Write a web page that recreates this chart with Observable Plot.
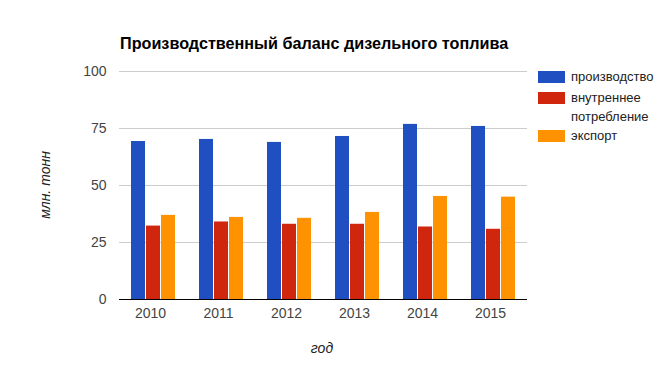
<!DOCTYPE html>
<html>
<head>
<meta charset="utf-8">
<script src="https://cdn.jsdelivr.net/npm/d3@7"></script>
<script src="https://cdn.jsdelivr.net/npm/@observablehq/plot@0.6"></script>
<style>
  html, body { margin: 0; padding: 0; background: #fff; }
  #wrap { position: relative; width: 670px; height: 371px; font-family: "Liberation Sans", Arial, sans-serif; }
  #title { position: absolute; left: 120px; top: 43px; transform: translateY(-50%); font-size: 16.2px; font-weight: bold; color: #000; white-space: nowrap; }
  #ylab { position: absolute; left: 45px; top: 185px; transform: translate(-50%, -50%) rotate(-90deg); font-size: 14px; font-style: italic; color: #222; white-space: nowrap; }
  #xlab { position: absolute; left: 322px; top: 348px; transform: translate(-50%, -50%); font-size: 14px; font-style: italic; color: #222; white-space: nowrap; }
  #legend { position: absolute; left: 538px; top: 71px; font-size: 13px; color: #222; }
  .item { position: absolute; left: 0; white-space: nowrap; }
  .sw { position: absolute; left: 0; top: 0; width: 27px; height: 12px; }
  .lt { position: absolute; left: 33px; top: -4px; line-height: 19px; }
</style>
</head>
<body>
<div id="wrap">
  <div id="chart"></div>
  <div id="title"></div>
  <div id="ylab"></div>
  <div id="xlab"></div>
  <div id="legend"></div>
</div>
<script>
const title = "Производственный баланс дизельного топлива";
const yLabel = "млн. тонн";
const xLabel = "год";
const years = ["2010", "2011", "2012", "2013", "2014", "2015"];
const seriesNames = ["производство", "внутреннее потребление", "экспорт"];
const legendLines = [["производство"], ["внутреннее", "потребление"], ["экспорт"]];
const colors = ["#1f4fc1", "#d0260d", "#ff9200"];
const production = [69.3, 70.2, 68.9, 71.5, 76.8, 75.9];
const domestic = [32.2, 34.0, 33.0, 33.0, 31.8, 30.8];
const exportVals = [36.9, 36.0, 35.6, 38.2, 45.2, 44.9];
const yTicks = [0, 25, 50, 75, 100];

const seriesValues = [production, domestic, exportVals];
const data = [];
years.forEach((y, i) => {
  seriesNames.forEach((s, j) => data.push({year: y, series: s, value: seriesValues[j][i]}));
});

const chart = Plot.plot({
  width: 670,
  height: 371,
  marginLeft: 119,
  marginRight: 143,
  marginTop: 71,
  marginBottom: 72,
  style: {fontFamily: "'Liberation Sans', Arial, sans-serif", fontSize: "14px", color: "#444", background: "#fff"},
  fx: {domain: years, padding: 0, label: null, axis: null},
  x: {domain: seriesNames, paddingInner: 1/15, paddingOuter: 0.8, axis: null},
  y: {domain: [0, 100], ticks: yTicks, tickSize: 0, tickPadding: 13, label: null},
  color: {domain: seriesNames, range: colors},
  marks: [
    Plot.ruleY(yTicks.filter(d => d > 0), {stroke: "#cccccc", strokeWidth: 1}),
    Plot.barY(data, {fx: "year", x: "series", y: "value", fill: "series"}),
    Plot.axisFx({anchor: "bottom", tickSize: 0, tickPadding: 9, dx: -3, label: null}),
    Plot.ruleY([0], {stroke: "#000", strokeWidth: 1.2})
  ]
});
document.getElementById("chart").appendChild(chart);
document.getElementById("title").textContent = title;
document.getElementById("ylab").textContent = yLabel;
document.getElementById("xlab").textContent = xLabel;

const legend = document.getElementById("legend");
const tops = [0, 21, 59];
seriesNames.forEach((s, i) => {
  const item = document.createElement("div");
  item.className = "item";
  item.style.top = tops[i] + "px";
  const sw = document.createElement("div");
  sw.className = "sw";
  sw.style.background = colors[i];
  const lt = document.createElement("div");
  lt.className = "lt";
  lt.innerHTML = legendLines[i].join("<br>");
  item.appendChild(sw);
  item.appendChild(lt);
  legend.appendChild(item);
});
</script>
</body>
</html>
